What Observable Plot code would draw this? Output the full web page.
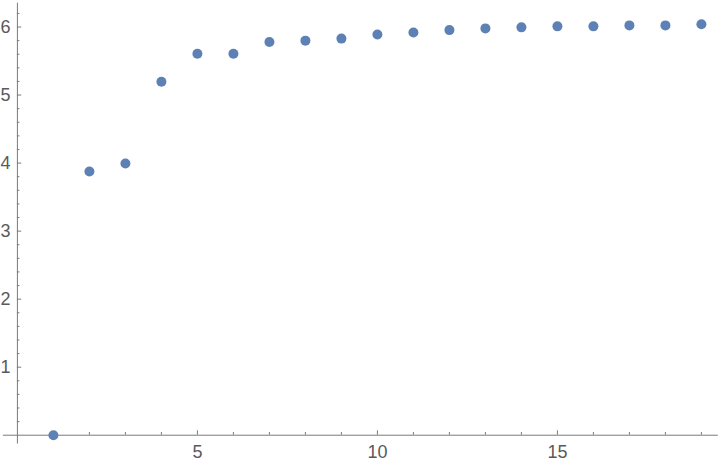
<!DOCTYPE html>
<html><head><meta charset="utf-8">
<script src="https://cdn.jsdelivr.net/npm/d3@7"></script>
<script src="https://cdn.jsdelivr.net/npm/@observablehq/plot@0.6"></script>
<style>body{margin:0;background:#fff;} svg{display:block;}</style>
</head><body><div id="chart"></div>
<script>
const xs = [1,2,3,4,5,6,7,8,9,10,11,12,13,14,15,16,17,18,19];
const ys = [0,3.876,3.994,5.196,5.607,5.607,5.78,5.80,5.83,5.89,5.92,5.955,5.98,5.995,6.01,6.01,6.024,6.024,6.04];
const xMajor = [5,10,15];
const yMajor = [1,2,3,4,5,6];
const xMinor = d3.range(1,20).filter(v => v % 5 !== 0);
const yMinor = d3.range(0.2,6.4,0.2).map(v=>+v.toFixed(1)).filter(v => Math.abs(v - Math.round(v)) > 1e-6);

const data = xs.map((x,i)=>({x, y: ys[i]}));
const axisColor = "#7a7a7a", textColor = "#5a5a5a";

const chart = Plot.plot({
  width: 720, height: 466,
  marginTop: 0, marginRight: 0, marginBottom: 0, marginLeft: 0,
  x: {domain: [-0.47, 19.53], axis: null},
  y: {domain: [-0.46, 6.39], axis: null},
  style: {fontFamily: "'Liberation Sans', Arial, sans-serif", background: "#fff"},
  marks: [
    Plot.ruleY([0], {x1: -0.39, x2: 19.47, stroke: axisColor, strokeWidth: 1}),
    Plot.ruleX([0], {y1: -0.13, y2: 6.35, stroke: axisColor, strokeWidth: 1}),
    Plot.ruleX(xMajor, {y1: 0, y2: 0.065, stroke: axisColor}),
    Plot.ruleX(xMinor, {y1: 0, y2: 0.04, stroke: axisColor}),
    Plot.ruleY(yMajor, {x1: 0, x2: 0.12, stroke: axisColor}),
    Plot.ruleY(yMinor, {x1: 0, x2: 0.07, stroke: axisColor}),
    Plot.text(xMajor, {x: d=>d, y: 0, text: d=>String(d), dy: 17.5, fontSize: 18, fill: textColor, textAnchor: "middle"}),
    Plot.text(yMajor, {x: 0, y: d=>d, text: d=>String(d), dx: -7, fontSize: 18, fill: textColor, textAnchor: "end"}),
    Plot.dot(data, {x: "x", y: "y", r: 5, fill: "#5E81B5", stroke: "none"})
  ]
});
document.getElementById("chart").appendChild(chart);
</script>
</body></html>
